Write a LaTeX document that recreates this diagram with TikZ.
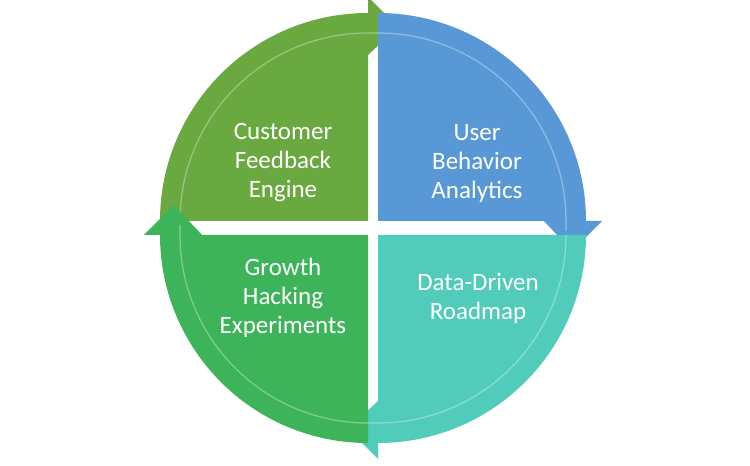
\documentclass[tikz,border=0pt]{standalone}
\usepackage{fontspec}
\setmainfont{Carlito}
\definecolor{cTL}{RGB}{106,168,64}
\definecolor{cTR}{RGB}{88,152,214}
\definecolor{cBR}{RGB}{82,204,186}
\definecolor{cBL}{RGB}{62,180,90}
\tikzset{
  lbl/.style={text=white,align=center,font=\fontsize{25}{29}\selectfont},
  inner/.style={draw=white,draw opacity=0.35,line width=1.2pt}
}
\newcommand{\quadshape}[1]{%
  \fill[#1] (0,0) -- (-208pt,0) arc[start angle=180,end angle=90,radius=208pt] -- (0,170pt) -- cycle;
  \fill[#1] (0,224pt) -- (30pt,194pt) -- (0,166pt) -- cycle;
  \draw[inner] (-188pt,0) arc[start angle=180,end angle=90,radius=188pt] -- (10pt,188pt);
}
\begin{document}
\begin{tikzpicture}[x=1pt,y=1pt]
\useasboundingbox (0,0) rectangle (750,466);
\fill[white] (0,0) rectangle (750,466);
\begin{scope}[shift={(368,245)}]\quadshape{cTL}\end{scope}
\begin{scope}[shift={(378,245)},rotate=-90]\quadshape{cTR}\end{scope}
\begin{scope}[shift={(378,231)},rotate=-180]\quadshape{cBR}\end{scope}
\begin{scope}[shift={(368,231)},rotate=90]\quadshape{cBL}\end{scope}
\node[lbl] (tl) at (283,303) {Customer\\Feedback\\Engine};
\node[lbl] (tr) at (477,303) {User\\Behavior\\Analytics};
\node[lbl] (br) at (478,168) {Data-Driven\\Roadmap};
\node[lbl] (bl) at (283,168) {Growth\\Hacking\\Experiments};
\end{tikzpicture}
\end{document}
